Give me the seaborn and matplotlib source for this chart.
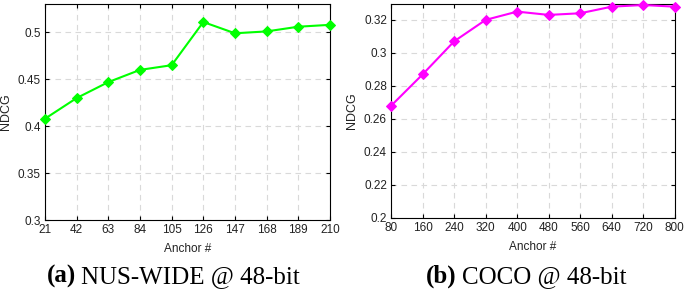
import pandas as pd
import matplotlib
matplotlib.use('Agg')
import matplotlib.pyplot as plt
import seaborn as sns

# Data
nus_anchors = [21, 42, 63, 84, 105, 126, 147, 168, 189, 210]
nus_ndcg = [0.408, 0.430, 0.447, 0.460, 0.465, 0.511, 0.499, 0.501, 0.506, 0.508]

coco_anchors = [80, 160, 240, 320, 400, 480, 560, 640, 720, 800]
coco_ndcg = [0.268, 0.287, 0.307, 0.320, 0.325, 0.323, 0.324, 0.328, 0.329, 0.328]

nus_yticks = [0.3, 0.35, 0.4, 0.45, 0.5]
coco_yticks = [0.2, 0.22, 0.24, 0.26, 0.28, 0.3, 0.32]

captions = [('(a)', 'NUS-WIDE @ 48-bit'), ('(b)', 'COCO @ 48-bit')]

sns.set_style('white')
plt.rcParams['font.family'] = ['Liberation Sans', 'DejaVu Sans']
plt.rcParams['text.color'] = 'black'

fig = plt.figure(figsize=(6.85, 2.99), dpi=100)
ax1 = fig.add_axes([0.0657, 0.264, 0.416, 0.722])
ax2 = fig.add_axes([0.571, 0.271, 0.414, 0.715])

def fmt(v):
    return ('%.2f' % v).rstrip('0').rstrip('.')

def style_axis(ax, xs, yticks):
    ax.set_xlim(xs[0], xs[-1])
    ax.set_xticks(xs)
    ax.set_xticklabels([str(v) for v in xs])
    ax.set_yticks(yticks)
    ax.set_yticklabels([fmt(v) for v in yticks])
    ax.grid(True, linestyle=(0, (5, 4)), color='#d9d9d9', linewidth=0.8)
    ax.tick_params(direction='in', length=3, width=0.8, labelsize=8.5,
                   top=True, right=True, bottom=True, left=True, pad=3,
                   colors='black', labelcolor='#222222')
    for s in ax.spines.values():
        s.set_color('black')
        s.set_linewidth(0.8)
    ax.set_xlabel('Anchor #', fontsize=8.5, labelpad=5, color='#222222')
    ax.set_ylabel('NDCG', fontsize=9, labelpad=4, color='#222222')

df1 = pd.DataFrame({'anchor': nus_anchors, 'ndcg': nus_ndcg})
df2 = pd.DataFrame({'anchor': coco_anchors, 'ndcg': coco_ndcg})

sns.lineplot(data=df1, x='anchor', y='ndcg', ax=ax1, color='#00ff00', linewidth=1.5,
             marker='D', markersize=5, markeredgecolor='#00ff00', clip_on=False, zorder=3)
sns.lineplot(data=df2, x='anchor', y='ndcg', ax=ax2, color='#ff00ff', linewidth=1.5,
             marker='D', markersize=5, markeredgecolor='#ff00ff', clip_on=False, zorder=3)

style_axis(ax1, nus_anchors, nus_yticks)
style_axis(ax2, coco_anchors, coco_yticks)
ax1.set_ylim(0.3, 0.53)
ax2.set_ylim(0.2, 0.3295)

# Captions below each panel: bold label followed by plain serif text
cap_font = dict(fontsize=18, va='baseline', family=['Liberation Serif', 'DejaVu Serif'],
                color='black')
fig.canvas.draw()
renderer = fig.canvas.get_renderer()
for (lab, txt), x0 in zip(captions, [47 / 685, 426 / 685]):
    t = fig.text(x0, 0.055, lab, fontweight='bold', ha='left', **cap_font)
    bb = t.get_window_extent(renderer)
    fig.text((bb.x1 + 5) / fig.bbox.width, 0.055, txt, ha='left', **cap_font)

fig.savefig('out.png', dpi=100)
